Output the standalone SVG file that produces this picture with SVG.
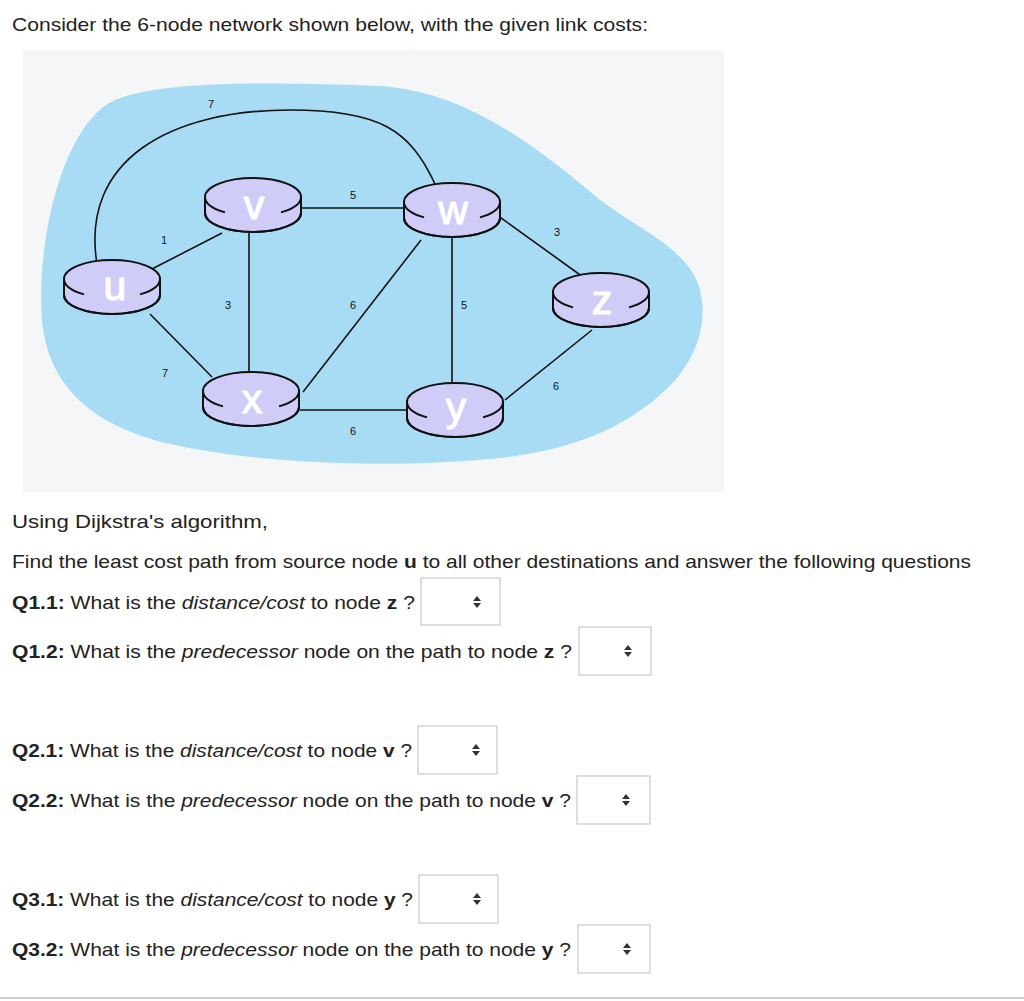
<svg xmlns="http://www.w3.org/2000/svg" width="1024" height="1001" viewBox="0 0 1024 1001">
<style>
text{font-family:"Liberation Sans",Arial,sans-serif;fill:#222}
.q{font-size:18.5px}
.lab{font-size:11px;fill:#111}
.e{stroke:#111;stroke-width:1.6;fill:none}
.r{fill:#cfcdf7;stroke:#111;stroke-width:2}
.s{fill:none;stroke:#111;stroke-width:2}
.nl{font-size:41px;fill:#fff;stroke:#fff;stroke-width:1.2;text-anchor:middle}
.box{fill:#fff;stroke:#ccc;stroke-width:1.3}
.ar{fill:#333}
</style>
<defs>
<g id="router">
<path class="r" d="M-48,0 V16 A48,19 0 0 0 48,16 V0 Z"/>
<path d="M-48,0 V16 A48,19 0 0 0 48,16 V0" class="s"/>
<ellipse cx="0" cy="0" rx="48" ry="19" fill="#cfcdf7"/>
<path d="M-48,0 A48,19 0 0 1 48,0" class="s"/>
<path d="M-48,0 A48,19 0 0 0 -28,15.4 M28,15.4 A48,19 0 0 0 48,0" class="s"/>
</g>
<g id="sel"><path class="ar" d="M0,-6 L4,-1 H-4 Z M0,6 L4,1 H-4 Z"/></g>
</defs>
<rect width="1024" height="1001" fill="#fff"/>
<text class="q" x="12" y="31" textLength="636" lengthAdjust="spacingAndGlyphs">Consider the 6-node network shown below, with the given link costs:</text>
<rect x="23" y="50" width="701" height="442" fill="#f5f6f8"/>
<path d="M115,100 C160,80 280,82 380,86 C470,92 540,150 600,200 C640,230 690,250 700,290 C710,330 690,370 660,395 C620,430 570,450 500,458 C400,468 270,466 170,444 C90,425 48,385 42,320 C36,250 60,125 115,100 Z" fill="#a8dcf5"/>
<g id="connectors">
<path class="e" d="M150,270 L222,233"/>
<path class="e" d="M302,208 L404,208"/>
<path class="e" d="M497,215 L583,277"/>
<path class="e" d="M592,330 L505,400"/>
<path class="e" d="M150,314 L212,377"/>
<path class="e" d="M249,232 V377"/>
<path class="e" d="M303,392 L421,240"/>
<path class="e" d="M452,238 V390"/>
<path class="e" d="M300,410 H406"/>
<path class="e" d="M97,264 C80,160 170,110 290,110 C380,110 410,130 435,184"/>
</g>
<g id="labels">
<text class="lab" x="208" y="108">7</text>
<text class="lab" x="350" y="199">5</text>
<text class="lab" x="161" y="244">1</text>
<text class="lab" x="554" y="236">3</text>
<text class="lab" x="225" y="309">3</text>
<text class="lab" x="350" y="309">6</text>
<text class="lab" x="461" y="309">5</text>
<text class="lab" x="162" y="377">7</text>
<text class="lab" x="553" y="390">6</text>
<text class="lab" x="350" y="435">6</text>
</g>
<g id="node-u"><use href="#router" x="112" y="279"/><text class="nl" x="115" y="300">u</text></g>
<g id="node-v"><use href="#router" x="253" y="197"/><text class="nl" x="254" y="219">v</text></g>
<g id="node-w"><use href="#router" x="452" y="202"/><text class="nl" x="453" y="224">w</text></g>
<g id="node-z"><use href="#router" x="601" y="292"/><text class="nl" x="602" y="314">z</text></g>
<g id="node-x"><use href="#router" x="251" y="391"/><text class="nl" x="252" y="413">x</text></g>
<g id="node-y"><use href="#router" x="455" y="402"/><text class="nl" x="456" y="421">y</text></g>
<text class="q" x="12" y="528" textLength="256" lengthAdjust="spacingAndGlyphs">Using Dijkstra's algorithm,</text>
<text class="q" x="12" y="568" textLength="959" lengthAdjust="spacingAndGlyphs">Find the least cost path from source node <tspan font-weight="bold">u</tspan> to all other destinations and answer the following questions</text>
<text class="q" x="12" y="609" textLength="403" lengthAdjust="spacingAndGlyphs"><tspan font-weight="bold">Q1.1:</tspan> What is the <tspan font-style="italic">distance/cost</tspan>  to node <tspan font-weight="bold">z</tspan> ?</text>
<rect class="box" x="421" y="578" width="79" height="47"/><use href="#sel" x="477" y="602"/>
<text class="q" x="12" y="658" textLength="560" lengthAdjust="spacingAndGlyphs"><tspan font-weight="bold">Q1.2:</tspan> What is the <tspan font-style="italic">predecessor</tspan>  node on the path to node <tspan font-weight="bold">z</tspan> ?</text>
<rect class="box" x="579" y="627" width="72" height="48"/><use href="#sel" x="628" y="651"/>
<text class="q" x="12" y="757" textLength="400" lengthAdjust="spacingAndGlyphs"><tspan font-weight="bold">Q2.1:</tspan> What is the <tspan font-style="italic">distance/cost</tspan> to node <tspan font-weight="bold">v</tspan> ?</text>
<rect class="box" x="418" y="726" width="79" height="48"/><use href="#sel" x="476" y="750"/>
<text class="q" x="12" y="807" textLength="559" lengthAdjust="spacingAndGlyphs"><tspan font-weight="bold">Q2.2:</tspan> What is the <tspan font-style="italic">predecessor</tspan> node on the path to node <tspan font-weight="bold">v</tspan> ?</text>
<rect class="box" x="577" y="776" width="73" height="48"/><use href="#sel" x="626" y="800"/>
<text class="q" x="12" y="906" textLength="401" lengthAdjust="spacingAndGlyphs"><tspan font-weight="bold">Q3.1:</tspan> What is the <tspan font-style="italic">distance/cost</tspan> to node <tspan font-weight="bold">y</tspan> ?</text>
<rect class="box" x="419" y="875" width="79" height="48"/><use href="#sel" x="477" y="899"/>
<text class="q" x="12" y="956" textLength="559" lengthAdjust="spacingAndGlyphs"><tspan font-weight="bold">Q3.2:</tspan> What is the <tspan font-style="italic">predecessor</tspan> node on the path to node <tspan font-weight="bold">y</tspan> ?</text>
<rect class="box" x="578" y="925" width="72" height="48"/><use href="#sel" x="627" y="949"/>
<line x1="0" y1="998" x2="1024" y2="998" stroke="#ccc" stroke-width="2"/>
</svg>
